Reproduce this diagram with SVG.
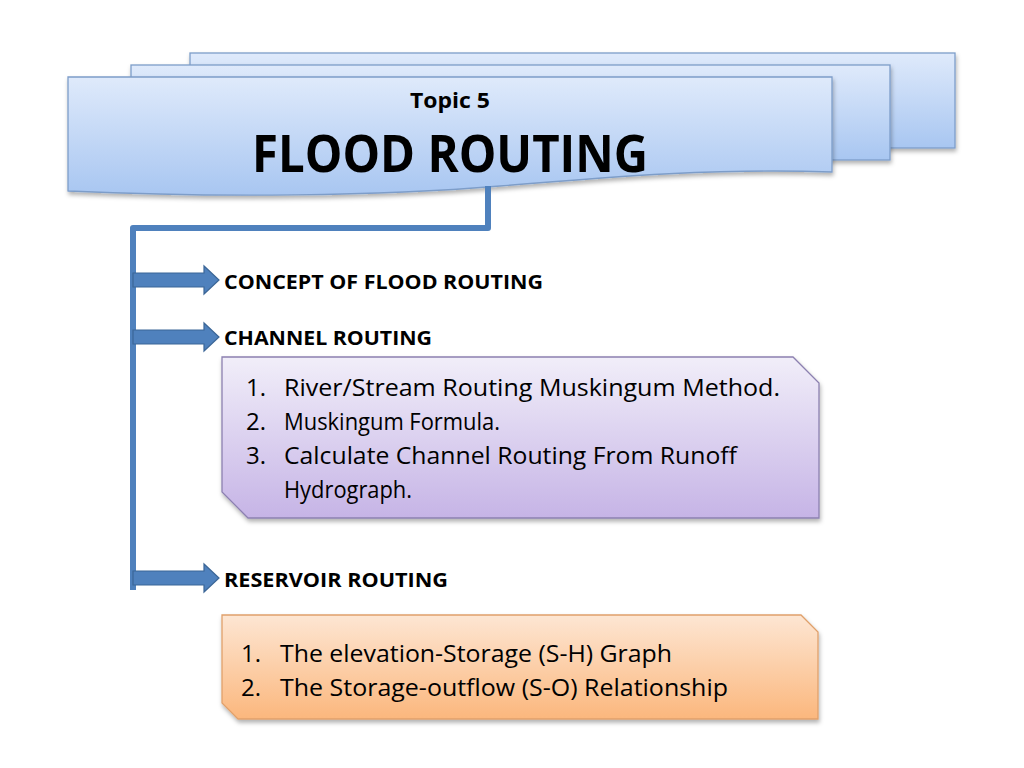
<svg xmlns="http://www.w3.org/2000/svg" width="1024" height="768" viewBox="0 0 1024 768">
  <defs>
    <linearGradient id="gBlue" x1="0" y1="0" x2="0" y2="1">
      <stop offset="0" stop-color="#dfeafb"/>
      <stop offset="1" stop-color="#a8c6f1"/>
    </linearGradient>
    <linearGradient id="gPurple" x1="0" y1="0" x2="0" y2="1">
      <stop offset="0" stop-color="#f1eef9"/>
      <stop offset="1" stop-color="#c6b4e6"/>
    </linearGradient>
    <linearGradient id="gOrange" x1="0" y1="0" x2="0" y2="1">
      <stop offset="0" stop-color="#fde6d3"/>
      <stop offset="1" stop-color="#fbb77d"/>
    </linearGradient>
    <filter id="shadow" x="-5%" y="-10%" width="110%" height="130%">
      <feDropShadow dx="1" dy="3" stdDeviation="2" flood-color="#000" flood-opacity="0.3"/>
    </filter>
  </defs>
  <style>
    .blue { fill: url(#gBlue); stroke: #7d9dc9; stroke-width: 1.3; filter: url(#shadow); }
    .purple { fill: url(#gPurple); stroke: #8c80b0; stroke-width: 1.3; filter: url(#shadow); }
    .orange { fill: url(#gOrange); stroke: #e0a06b; stroke-width: 1.3; filter: url(#shadow); }
    .line { fill: none; stroke: #4f81bd; stroke-width: 6; stroke-linejoin: round; }
    .arrow { fill: #4f81bd; stroke: #3b6697; stroke-width: 1.2; stroke-linejoin: miter; }
    .hdr { font-family: "Open Sans", "Noto Sans", "Liberation Sans", sans-serif; font-weight: bold; fill: #000; }
    .lbl { font-family: "Open Sans", "Noto Sans", "Liberation Sans", sans-serif; font-weight: bold; font-size: 20px; fill: #000; }
    .item { font-family: "Open Sans", "Noto Sans", "Liberation Sans", sans-serif; font-size: 24px; fill: #000; }
  </style>
  <rect width="1024" height="768" fill="#ffffff"/>

  <g id="title">
    <rect class="blue" x="190" y="53" width="765" height="95"/>
    <rect class="blue" x="131" y="65" width="759" height="95"/>
    <path class="blue" d="M68,77 L832,77 L832,172 C720,168 620,176 500,186 C380,196 220,198 68,191 Z"/>
    <text class="hdr" x="410" y="108" font-size="22" textLength="80" lengthAdjust="spacingAndGlyphs">Topic 5</text>
    <text class="hdr" x="252" y="172" font-size="52" textLength="396" lengthAdjust="spacingAndGlyphs">FLOOD ROUTING</text>
  </g>

  <g id="connectors">
    <path class="line" d="M488,186 V228 H133 V590"/>
    <polygon class="arrow" points="133,273 204,273 204,266 219,280 204,294 204,287 133,287"/>
    <polygon class="arrow" points="133,330 204,330 204,323 219,337 204,351 204,344 133,344"/>
    <polygon class="arrow" points="133,571 204,571 204,564 219,578 204,592 204,585 133,585"/>
  </g>

  <g id="concept">
    <text class="lbl" x="224" y="289" textLength="319" lengthAdjust="spacingAndGlyphs">CONCEPT OF FLOOD ROUTING</text>
  </g>

  <g id="channel">
    <text class="lbl" x="224" y="345" textLength="208" lengthAdjust="spacingAndGlyphs">CHANNEL ROUTING</text>
  </g>

  <g id="channel-list">
    <path class="purple" d="M222,357 L793,357 L819,383 L819,518 L248,518 L222,492 Z"/>
    <text class="item" x="246" y="396">1.</text>
    <text class="item" x="284" y="396" textLength="496" lengthAdjust="spacingAndGlyphs">River/Stream Routing Muskingum Method.</text>
    <text class="item" x="246" y="430">2.</text>
    <text class="item" x="284" y="430" textLength="216" lengthAdjust="spacingAndGlyphs">Muskingum Formula.</text>
    <text class="item" x="246" y="464">3.</text>
    <text class="item" x="284" y="464" textLength="453" lengthAdjust="spacingAndGlyphs">Calculate Channel Routing From Runoff</text>
    <text class="item" x="284" y="498" textLength="128" lengthAdjust="spacingAndGlyphs">Hydrograph.</text>
  </g>

  <g id="reservoir">
    <text class="lbl" x="224" y="587" textLength="224" lengthAdjust="spacingAndGlyphs">RESERVOIR ROUTING</text>
  </g>

  <g id="reservoir-list">
    <path class="orange" d="M222,615 L801,615 L818,632 L818,719 L238,719 L222,703 Z"/>
    <text class="item" x="241" y="662">1.</text>
    <text class="item" x="280" y="662" textLength="392" lengthAdjust="spacingAndGlyphs">The elevation-Storage (S-H) Graph</text>
    <text class="item" x="241" y="696">2.</text>
    <text class="item" x="280" y="696" textLength="448" lengthAdjust="spacingAndGlyphs">The Storage-outflow (S-O) Relationship</text>
  </g>
</svg>
